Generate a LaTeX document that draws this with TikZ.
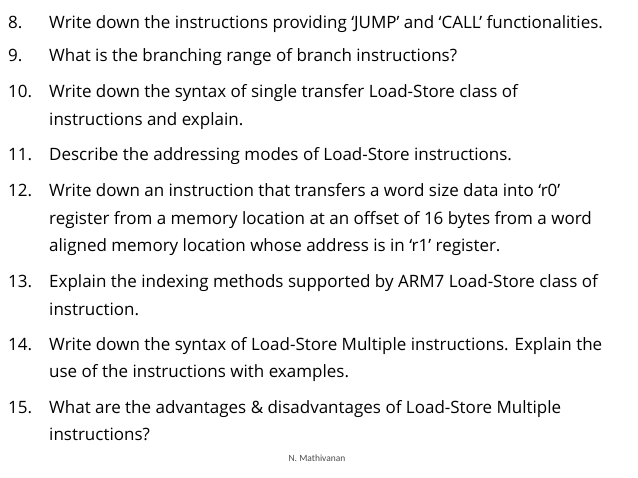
\documentclass[tikz,border=0pt]{standalone}
\usepackage{fontspec}
\setmainfont{Open Sans}
\newfontfamily\footfont{Carlito}
\begin{document}
\begin{tikzpicture}[x=1pt,y=-1pt,
  ln/.style={anchor=base west,inner sep=0pt,font=\fontsize{17}{20}\selectfont},
  ft/.style={anchor=base,inner sep=0pt,font=\footfont\fontsize{9.5}{11}\selectfont,text=black!70}]
\useasboundingbox[fill=white] (0,0) rectangle (638,478);
\node[ln] (n8) at (8,29) {8.}; \node[ln] (t8) at (49,29) {Write down the instructions providing ‘JUMP’ and ‘CALL’ functionalities.};
\node[ln] (n9) at (8,62) {9.}; \node[ln] (t9) at (49,62) {What is the branching range of branch instructions?};
\node[ln] (n10) at (8,98) {10.}; \node[ln] (t10) at (49,98) {Write down the syntax of single transfer Load-Store class of};
\node[ln] (t10b) at (49,126) {instructions and explain.};
\node[ln] (n11) at (8,161) {11.}; \node[ln] (t11) at (49,161) {Describe the addressing modes of Load-Store instructions.};
\node[ln] (n12) at (8,197) {12.}; \node[ln] (t12) at (49,197) {Write down an instruction that transfers a word size data into ‘r0’};
\node[ln] (t12b) at (49,225) {register from a memory location at an offset of 16 bytes from a word};
\node[ln] (t12c) at (49,252) {aligned memory location whose address is in ‘r1’ register.};
\node[ln] (n13) at (8,288) {13.}; \node[ln] (t13) at (49,288) {Explain the indexing methods supported by ARM7 Load-Store class of};
\node[ln] (t13b) at (49,316) {instruction.};
\node[ln] (n14) at (8,351) {14.}; \node[ln] (t14) at (49,351) {Write down the syntax of Load-Store Multiple instructions. Explain the};
\node[ln] (t14b) at (49,378) {use of the instructions with examples.};
\node[ln] (n15) at (8,414) {15.}; \node[ln] (t15) at (49,414) {What are the advantages \& disadvantages of Load-Store Multiple};
\node[ln] (t15b) at (49,441) {instructions?};
\node[ft] (f) at (317,462) {N. Mathivanan};
\end{tikzpicture}
\end{document}
